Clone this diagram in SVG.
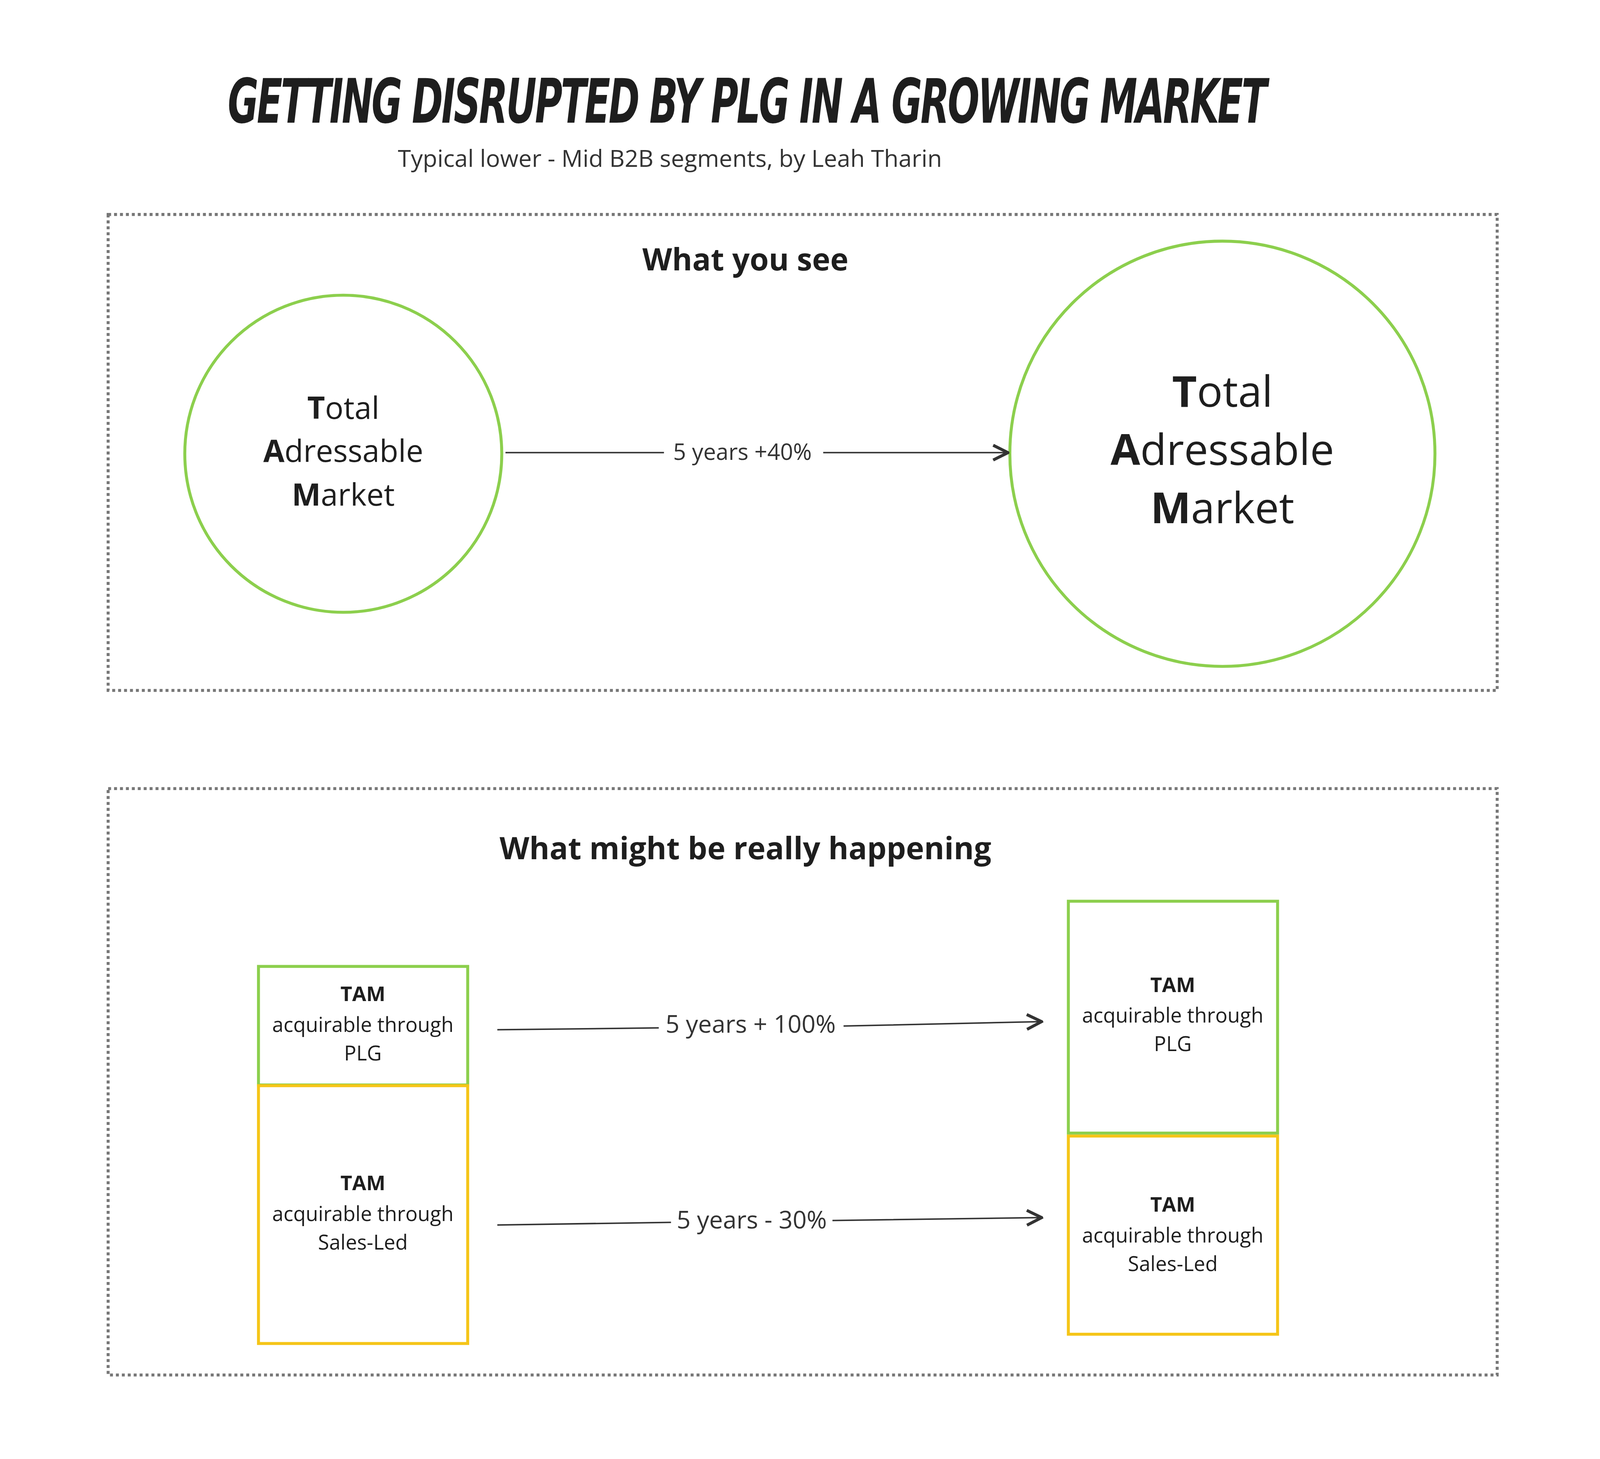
<svg xmlns="http://www.w3.org/2000/svg" width="4283" height="3734" viewBox="0 0 4283 3734">
<style>
text{font-family:"Open Sans","Noto Sans",sans-serif;fill:#1e1e1e;text-anchor:middle}
.frame{fill:none;stroke:#777;stroke-width:8;stroke-dasharray:8 8}
.g{fill:#fff;stroke:#8ccf4d;stroke-width:8}
.y{fill:#fff;stroke:#f5c518;stroke-width:8}
.c{fill:none;stroke:#333;stroke-width:4}
.s{font-size:55px}
.lbl{font-size:61px;fill:#333}
.lbl2{font-size:66px;fill:#333}
</style>
<defs>
<marker id="b" viewBox="0 0 12 12" refX="11" refY="6" markerWidth="48" markerHeight="48" markerUnits="userSpaceOnUse" orient="auto"><path d="M1,1 L11,6 L1,11" fill="none" stroke="#333" stroke-width="2"/></marker></defs>
<g transform="scale(0.948)">
<g id="title">
<text x="2016" y="331" style="font-family:'DejaVu Sans Condensed','DejaVu Sans',sans-serif;font-weight:bold;font-style:italic;font-size:150px;letter-spacing:-6px" transform="translate(2016 331) scale(0.75,1.1) translate(-2016 -331)">GETTING DISRUPTED BY PLG IN A GROWING MARKET</text>
<text x="1809" y="450" style="font-size:64px;fill:#333">Typical lower - Mid B2B segments, by Leah Tharin</text>
</g>
<g id="frame1"><rect class="frame" x="292" y="579" width="3751" height="1285"/>
<text x="2013" y="730" style="font-size:83px;font-weight:bold">What you see</text></g>
<g id="tam1"><circle class="g" cx="927" cy="1225" r="428"/>
<text style="font-size:83px"><tspan x="927" y="1131"><tspan font-weight="bold">T</tspan>otal</tspan><tspan x="927" y="1247"><tspan font-weight="bold">A</tspan>dressable</tspan><tspan x="927" y="1365"><tspan font-weight="bold">M</tspan>arket</tspan></text></g>
<g id="tam2"><circle class="g" cx="3301" cy="1225" r="574"/>
<text style="font-size:116px"><tspan x="3301" y="1098"><tspan font-weight="bold">T</tspan>otal</tspan><tspan x="3301" y="1255"><tspan font-weight="bold">A</tspan>dressable</tspan><tspan x="3301" y="1412"><tspan font-weight="bold">M</tspan>arket</tspan></text></g>
<g id="frame2"><rect class="frame" x="292" y="2129" width="3751" height="1583"/>
<text x="2013" y="2320" style="font-size:83px;font-weight:bold">What might be really happening</text></g>
<g id="plg1"><rect class="g" x="698" y="2609" width="565" height="320"/>
<text class="s"><tspan x="980" y="2703" font-weight="bold">TAM</tspan><tspan x="980" y="2786">acquirable through</tspan><tspan x="980" y="2863">PLG</tspan></text></g>
<g id="sales1"><rect class="y" x="698" y="2931" width="565" height="696"/>
<text class="s"><tspan x="980" y="3213" font-weight="bold">TAM</tspan><tspan x="980" y="3296">acquirable through</tspan><tspan x="980" y="3373">Sales-Led</tspan></text></g>
<g id="plg2"><rect class="g" x="2885" y="2433" width="565" height="626"/>
<text class="s"><tspan x="3167" y="2678" font-weight="bold">TAM</tspan><tspan x="3167" y="2761">acquirable through</tspan><tspan x="3167" y="2838">PLG</tspan></text></g>
<g id="sales2"><rect class="y" x="2885" y="3067" width="565" height="535"/>
<text class="s"><tspan x="3167" y="3271" font-weight="bold">TAM</tspan><tspan x="3167" y="3354">acquirable through</tspan><tspan x="3167" y="3431">Sales-Led</tspan></text></g>
<g id="connectors">
<path class="c" d="M1365 1222 H1793 M2223 1222 H2722" marker-end="url(#b)"/>
<text class="lbl" x="2005" y="1242">5 years +40%</text>
<path class="c" d="M1343 2780 L1779 2775 M2278 2770 L2813 2758" marker-end="url(#b)"/>
<text class="lbl2" x="2027" y="2788">5 years + 100%</text>
<path class="c" d="M1343 3307 L1812 3300 M2248 3295 L2813 3287" marker-end="url(#b)"/>
<text class="lbl2" x="2030" y="3316">5 years - 30%</text>
</g>
</g>
</svg>
